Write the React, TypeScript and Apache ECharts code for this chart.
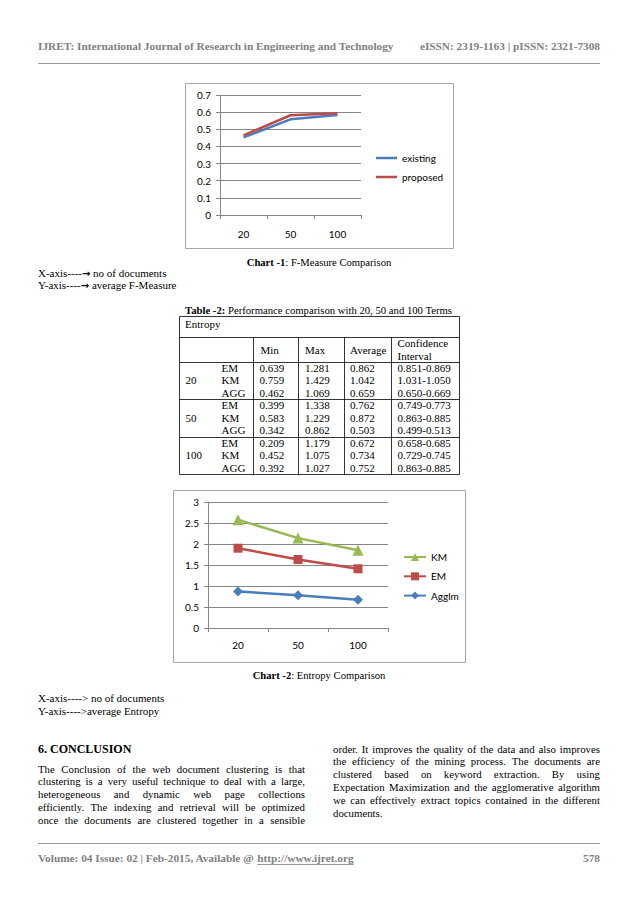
import { useEffect, useRef } from 'react';
import * as echarts from 'echarts';

const headerLeft = 'IJRET: International Journal of Research in Engineering and Technology';
const headerRight = 'eISSN: 2319-1163 | pISSN: 2321-7308';

const fmCategories = ['20', '50', '100'];
const fmExisting = [0.453, 0.558, 0.583];
const fmProposed = [0.465, 0.582, 0.593];

const entCategories = ['20', '50', '100'];
const entKM = [2.58, 2.14, 1.85];
const entEM = [1.9, 1.63, 1.41];
const entAgglm = [0.87, 0.78, 0.67];

const tableGroups = ['20', '50', '100'];
const tableMethods = ['EM', 'KM', 'AGG'];
const tableHeaders = ['Min', 'Max', 'Average'];
const tableMin = ['0.639', '0.759', '0.462', '0.399', '0.583', '0.342', '0.209', '0.452', '0.392'];
const tableMax = ['1.281', '1.429', '1.069', '1.338', '1.229', '0.862', '1.179', '1.075', '1.027'];
const tableAvg = ['0.862', '1.042', '0.659', '0.762', '0.872', '0.503', '0.672', '0.734', '0.752'];
const tableCI = ['0.851-0.869', '1.031-1.050', '0.650-0.669', '0.749-0.773', '0.863-0.885', '0.499-0.513', '0.658-0.685', '0.729-0.745', '0.863-0.885'];

const conclusionLeft = [
  'The Conclusion of the web document clustering is that',
  'clustering is a very useful technique to deal with a large,',
  'heterogeneous and dynamic web page collections',
  'efficiently. The indexing and retrieval will be optimized',
  'once the documents are clustered together in a sensible',
];
const conclusionRight = [
  'order. It improves the quality of the data and also improves',
  'the efficiency of the mining process. The documents are',
  'clustered based on keyword extraction. By using',
  'Expectation Maximization and the agglomerative algorithm',
  'we can effectively extract topics contained in the different',
  'documents.',
];

const SERIF = "'Liberation Serif', 'Times New Roman', serif";
const SANS = "Lato, 'Open Sans', sans-serif";
const ARROWF = "'DejaVu Sans', sans-serif";
const GRAY = '#7f7f7f';
const AXIS = '#868686';

let ctx: CanvasRenderingContext2D | null = null;
function measure(s: string, size: number, weight = 'normal', family = SERIF) {
  if (!ctx) ctx = document.createElement('canvas').getContext('2d');
  if (!ctx) return s.length * size * 0.45;
  ctx.font = `${weight} ${size}px ${family}`;
  return ctx.measureText(s).width;
}

type TO = { size?: number; weight?: string; color?: string; align?: string; family?: string };
function txt(x: number, y: number, text: string, o: TO = {}) {
  return {
    type: 'text',
    x,
    y,
    silent: true,
    style: {
      text,
      fontSize: o.size ?? 11,
      fontWeight: o.weight ?? 'normal',
      fontFamily: o.family ?? SERIF,
      fill: o.color ?? '#000',
      textAlign: o.align ?? 'left',
      textVerticalAlign: 'middle',
      align: o.align ?? 'left',
      verticalAlign: 'middle',
    },
  };
}
function ln(x1: number, y1: number, x2: number, y2: number, stroke = '#000', lineWidth = 0.8) {
  return { type: 'line', silent: true, shape: { x1, y1, x2, y2 }, style: { stroke, lineWidth } };
}
type Part = { t: string; w?: string; f?: string; s?: number };
function segs(x: number, y: number, parts: Part[], size: number, color = '#000', center = false) {
  const widths = parts.map((p) => measure(p.t, p.s ?? size, p.w ?? 'normal', p.f ?? SERIF));
  const total = widths.reduce((a, b) => a + b, 0);
  let cx = center ? x - total / 2 : x;
  const out: any[] = [];
  parts.forEach((p, i) => {
    out.push(txt(cx, y, p.t, { size: p.s ?? size, weight: p.w ?? 'normal', color, family: p.f ?? SERIF }));
    cx += widths[i];
  });
  return out;
}
function justify(line: string, x0: number, x1: number, y: number, size: number, last: boolean) {
  if (last) return [txt(x0, y, line, { size })];
  const words = line.split(' ');
  const ws = words.map((w) => measure(w, size));
  const sum = ws.reduce((a, b) => a + b, 0);
  const gap = words.length > 1 ? (x1 - x0 - sum) / (words.length - 1) : 0;
  let cx = x0;
  return words.map((w, i) => {
    const e = txt(cx, y, w, { size });
    cx += ws[i] + gap;
    return e;
  });
}

function buildGraphics() {
  const g: any[] = [];
  // header
  g.push(txt(38, 46, headerLeft, { size: 11.3, weight: 'bold', color: GRAY }));
  g.push(txt(600, 46, headerRight, { size: 11.3, weight: 'bold', color: GRAY, align: 'right' }));
  g.push(ln(38, 63.5, 600, 63.5, '#9a9a9a', 1.2));

  // chart boxes
  g.push({ type: 'rect', silent: true, shape: { x: 185.5, y: 83.5, width: 268, height: 165 }, style: { fill: 'none', stroke: '#a6a6a6', lineWidth: 1 } });
  g.push({ type: 'rect', silent: true, shape: { x: 173.5, y: 490.5, width: 292, height: 172 }, style: { fill: 'none', stroke: '#a6a6a6', lineWidth: 1 } });

  // captions
  g.push(...segs(319, 262, [{ t: 'Chart -1', w: 'bold' }, { t: ': F-Measure Comparison' }], 10.6, '#000', true));
  g.push(...segs(38, 273, [{ t: 'X-axis----' }, { t: '\u2192', f: ARROWF, w: 'bold', s: 10 }, { t: ' no of documents' }], 11));
  g.push(...segs(38, 285, [{ t: 'Y-axis----' }, { t: '\u2192', f: ARROWF, w: 'bold', s: 10 }, { t: ' average F-Measure' }], 11));

  // table
  g.push(...segs(185, 310, [{ t: 'Table -2:', w: 'bold' }, { t: ' Performance comparison with 20, 50 and 100 Terms' }], 10.7));
  const L = 179.5, R = 459.5, T = 316.5, B = 474.5;
  const hy = [T, 337.5, 362.5, 399.5, 437.5, B];
  hy.forEach((y) => g.push(ln(L, y, R, y)));
  g.push(ln(L, T, L, B));
  g.push(ln(R, T, R, B));
  [253.5, 298.5, 344.5, 391.5].forEach((x) => g.push(ln(x, 337.5, x, B)));
  g.push(txt(185, 324, 'Entropy', { size: 11 }));
  const colX = [259.5, 305, 350];
  tableHeaders.forEach((h, i) => g.push(txt(colX[i] + (i === 0 ? 1 : 0), 349.5, h, { size: 11 })));
  g.push(txt(397.5, 343, 'Confidence', { size: 11 }));
  g.push(txt(397.5, 356, 'Interval', { size: 11 }));
  tableGroups.forEach((grp, k) => {
    tableMethods.forEach((m, j) => {
      const idx = k * 3 + j;
      const y = 368 + idx * 12.45;
      if (j === 1) g.push(txt(185.5, y, grp, { size: 11 }));
      g.push(txt(221.5, y, m, { size: 11 }));
      g.push(txt(colX[0], y, tableMin[idx], { size: 11 }));
      g.push(txt(colX[1], y, tableMax[idx], { size: 11 }));
      g.push(txt(colX[2], y, tableAvg[idx], { size: 11 }));
      g.push(txt(397.5, y, tableCI[idx], { size: 11 }));
    });
  });

  // chart 2 captions
  g.push(...segs(319, 675, [{ t: 'Chart -2', w: 'bold' }, { t: ': Entropy Comparison' }], 10.6, '#000', true));
  g.push(txt(38, 698, 'X-axis----> no of documents', { size: 11 }));
  g.push(txt(38, 711, 'Y-axis---->average Entropy', { size: 11 }));

  // conclusion
  g.push(txt(38, 748.5, '6. CONCLUSION', { size: 12, weight: 'bold' }));
  conclusionLeft.forEach((l, i) => g.push(...justify(l, 38, 305, 768.5 + i * 12.8, 10.8, false)));
  conclusionRight.forEach((l, i) => g.push(...justify(l, 333, 600, 748.5 + i * 12.8, 10.8, i === conclusionRight.length - 1)));

  // footer
  g.push(ln(38, 843.5, 600, 843.5, '#9a9a9a', 1.2));
  const f1 = 'Volume: 04 Issue: 02 | Feb-2015, Available @ ';
  const f2 = 'http://www.ijret.org';
  const w1 = measure(f1, 11.3, 'bold');
  const w2 = measure(f2, 11.3, 'bold');
  g.push(txt(38, 858, f1, { size: 11.3, weight: 'bold', color: GRAY }));
  g.push(txt(38 + w1, 858, f2, { size: 11.3, weight: 'bold', color: GRAY }));
  g.push(ln(38 + w1, 864.5, 38 + w1 + w2, 864.5, GRAY, 0.8));
  g.push(txt(600, 858, '578', { size: 11.3, weight: 'bold', color: GRAY, align: 'right' }));
  return g;
}

export default function App() {
  const ref = useRef<HTMLDivElement>(null);
  useEffect(() => {
    if (!ref.current) return;
    const chart = echarts.init(ref.current, undefined, { renderer: 'svg' });
    const axisLabel = { color: '#000', fontSize: 10, fontFamily: SANS };
    const catAxis = (gi: number, data: string[], margin: number) => ({
      type: 'category',
      gridIndex: gi,
      data,
      boundaryGap: true,
      axisLine: { show: true, lineStyle: { color: AXIS, width: 1 } },
      axisTick: { show: true, length: 4, lineStyle: { color: AXIS } },
      axisLabel: { ...axisLabel, margin },
      splitLine: { show: false },
    });
    const valAxis = (gi: number, max: number, interval: number) => ({
      type: 'value',
      gridIndex: gi,
      min: 0,
      max,
      interval,
      axisLine: { show: true, lineStyle: { color: AXIS, width: 1 } },
      axisTick: { show: true, length: 4, lineStyle: { color: AXIS } },
      axisLabel: { ...axisLabel, margin: 9 },
      splitLine: { show: true, lineStyle: { color: AXIS, width: 1 } },
    });
    const legendText = { fontSize: 10, fontFamily: SANS, color: '#000' };
    chart.setOption({
      animation: false,
      backgroundColor: '#fff',
      tooltip: { show: false },
      grid: [
        { left: 220, top: 95, width: 141, height: 120 },
        { left: 208, top: 502, width: 180, height: 126 },
      ],
      xAxis: [catAxis(0, fmCategories, 14), catAxis(1, entCategories, 12)],
      yAxis: [valAxis(0, 0.7, 0.1), valAxis(1, 3, 0.5)],
      legend: [
        {
          data: [
            { name: 'existing', icon: 'rect' },
            { name: 'proposed', icon: 'rect' },
          ],
          orient: 'vertical',
          left: 371,
          top: 148,
          itemWidth: 21,
          itemHeight: 2.5,
          itemGap: 9,
          textStyle: legendText,
        },
        {
          data: ['KM', 'EM', 'Agglm'],
          orient: 'vertical',
          left: 398,
          top: 547,
          itemWidth: 22,
          itemHeight: 10,
          itemGap: 9.3,
          textStyle: legendText,
        },
      ],
      series: [
        { type: 'line', name: 'existing', xAxisIndex: 0, yAxisIndex: 0, data: fmExisting, symbol: 'none', lineStyle: { width: 2.5, color: '#4A7EBB' }, itemStyle: { color: '#4A7EBB' } },
        { type: 'line', name: 'proposed', xAxisIndex: 0, yAxisIndex: 0, data: fmProposed, symbol: 'none', lineStyle: { width: 2.5, color: '#BE4B48' }, itemStyle: { color: '#BE4B48' } },
        { type: 'line', name: 'Agglm', xAxisIndex: 1, yAxisIndex: 1, data: entAgglm, symbol: 'diamond', symbolSize: 10, lineStyle: { width: 2.5, color: '#4A7EBB' }, itemStyle: { color: '#4A7EBB' } },
        { type: 'line', name: 'EM', xAxisIndex: 1, yAxisIndex: 1, data: entEM, symbol: 'rect', symbolSize: 9, lineStyle: { width: 2.5, color: '#BE4B48' }, itemStyle: { color: '#BE4B48' } },
        { type: 'line', name: 'KM', xAxisIndex: 1, yAxisIndex: 1, data: entKM, symbol: 'triangle', symbolSize: 11, lineStyle: { width: 2.5, color: '#98B954' }, itemStyle: { color: '#98B954' } },
      ],
      graphic: { elements: buildGraphics() },
    });
    return () => chart.dispose();
  }, []);
  return (
    <div
      ref={ref}
      style={{ position: 'absolute', left: 0, top: 0, width: 638, height: 902, background: '#fff' }}
    />
  );
}
